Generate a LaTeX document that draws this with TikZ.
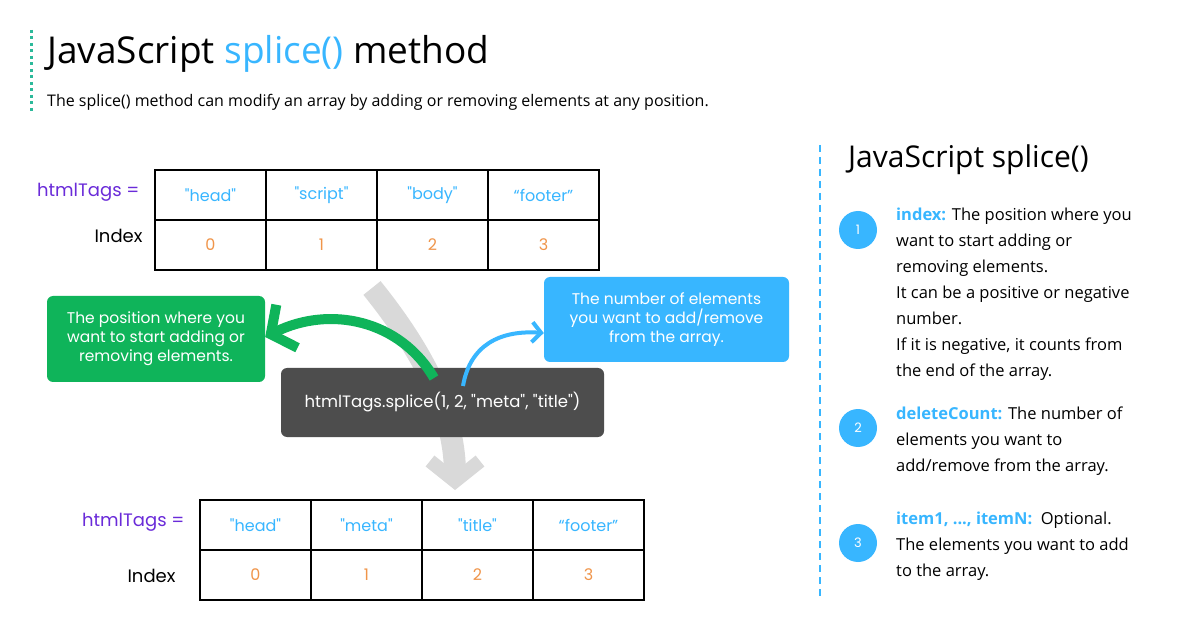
\documentclass[tikz,border=0pt]{standalone}
\usepackage{fontspec}
\setmainfont{Open Sans}
\newfontfamily\pop{Poppins}
\usetikzlibrary{arrows.meta}
\definecolor{jsblue}{HTML}{38B6FF}
\definecolor{jsgreen}{HTML}{0FB45A}
\definecolor{jsdark}{HTML}{4D4D4D}
\definecolor{jsorange}{HTML}{F0954A}
\definecolor{jspurple}{HTML}{6A2BD9}
\definecolor{jsteal}{HTML}{2CB99A}
\begin{document}
\begin{tikzpicture}[x=1pt,y=-1pt,
 cell/.style={draw=black,line width=1.3pt,minimum width=111pt,minimum height=50pt,inner sep=0pt,font=\pop\fontsize{16}{16}\selectfont},
 strc/.style={cell,text=jsblue},
 idxc/.style={cell,text=jsorange},
 lbl/.style={font=\pop\fontsize{18}{18}\selectfont},
 callout/.style={rounded corners=6pt,text=white,align=center,font=\pop\fontsize{15.5}{19}\selectfont,inner sep=0pt},
 num/.style={circle,fill=jsblue,minimum size=38pt,inner sep=0pt,text=white,font=\pop\fontsize{13}{13}\selectfont},
 desc/.style={anchor=north west,align=left,font=\fontsize{16.5}{26}\selectfont,inner sep=0pt}]
\useasboundingbox[fill=white] (0,0) rectangle (1200,628);
% header
\draw[jsteal,line width=3pt,dash pattern=on 3pt off 3.5pt] (31,30) -- (31,113);
\node[anchor=west,font=\fontsize{37}{37}\selectfont,inner sep=0pt] (title) at (47,54) {JavaScript \textcolor{jsblue}{splice()} method};
\node[anchor=west,font=\fontsize{16}{16}\selectfont,inner sep=0pt] (sub) at (47,102) {The splice() method can modify an array by adding or removing elements at any position.};
% top table
\foreach \t [count=\i] in {"head","script","body",“footer”}{
  \node[strc] (a\i) at (155+111*\i-55.5,195) {\t};
  \node[idxc] (ai\i) at (155+111*\i-55.5,245) {\the\numexpr\i-1\relax};
}
\node[lbl,text=jspurple,anchor=east] (l1) at (143,192) {htmlTags =};
\node[lbl,anchor=east] (i1) at (146,236) {Index};
% bottom table
\foreach \t [count=\i] in {"head","meta","title",“footer”}{
  \node[strc] (b\i) at (200+111*\i-55.5,525) {\t};
  \node[idxc] (bi\i) at (200+111*\i-55.5,575) {\the\numexpr\i-1\relax};
}
\node[lbl,text=jspurple,anchor=east] (l2) at (188,522) {htmlTags =};
\node[lbl,anchor=east] (i2) at (179,576) {Index};
% big gray arrow
\coordinate (gs) at (372,288);
\coordinate (ge) at (455,490);
\draw[black!15,line width=22pt,-{Straight Barb[length=20pt,width=50pt,line width=14pt]}] (gs) .. controls (430,360) and (455,420) .. (ge);
% callouts
\node[callout,fill=jsgreen,minimum width=218pt,minimum height=86pt] (green) at (156,339) {The position where you\\want to start adding or\\removing elements.};
\node[callout,fill=jsblue,minimum width=245pt,minimum height=85pt] (blue) at (666.5,319.5) {The number of elements\\you want to add/remove\\from the array.};
\node[callout,fill=jsdark,minimum width=323pt,minimum height=69pt,font=\pop\fontsize{16.5}{16.5}\selectfont] (code) at (442.5,402.5) {htmlTags.splice(1, 2, "meta", "title")};
\coordinate (gfrom) at (434,378);
\coordinate (bfrom) at (463,386);
\draw[jsgreen,line width=10pt,-{Straight Barb[length=18pt,width=48pt,line width=10pt]}] (gfrom) .. controls (400,320) and (330,305) .. (green.east|-0,337);
\draw[jsblue,line width=4pt,-{Straight Barb[length=9pt,width=20pt,line width=4pt]}] (bfrom) .. controls (470,345) and (500,330) .. (blue.west|-0,333);
% right panel
\draw[jsblue,line width=1.5pt,dash pattern=on 7pt off 5pt] (820,145) -- (820,598);
\node[anchor=west,font=\fontsize{30}{30}\selectfont,inner sep=0pt] (rt) at (848,160) {JavaScript splice()};
\node[num] (n1) at (858,230) {1};
\node[num] (n2) at (858,428) {2};
\node[num] (n3) at (858,543) {3};
\node[desc] (d1) at (896,208) {\textbf{\textcolor{jsblue}{index:}} The position where you\\want to start adding or\\removing elements.\\It can be a positive or negative\\number.\\If it is negative, it counts from\\the end of the array.};
\node[desc] (d2) at (896,407) {\textbf{\textcolor{jsblue}{deleteCount:}} The number of\\elements you want to\\add/remove from the array.};
\node[desc] (d3) at (896,512) {\textbf{\textcolor{jsblue}{item1, ..., itemN:}}~ Optional.\\The elements you want to add\\to the array.};
\end{tikzpicture}
\end{document}
